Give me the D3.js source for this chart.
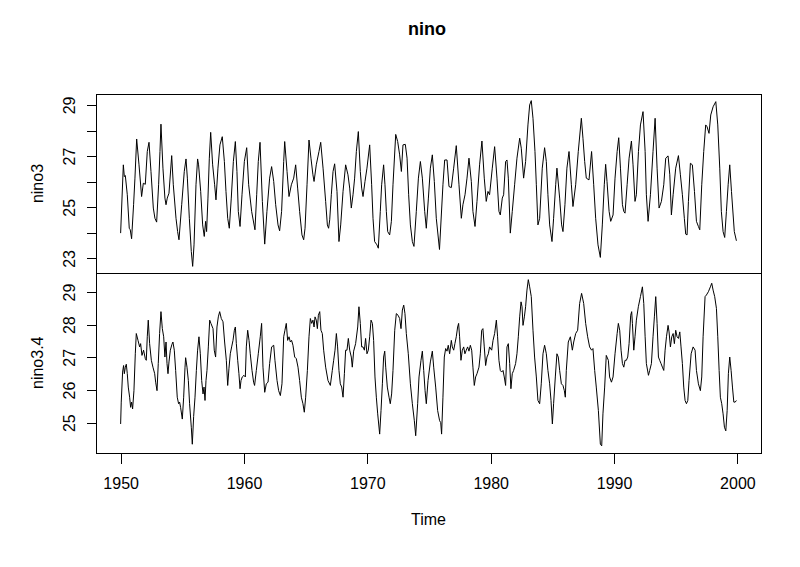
<!DOCTYPE html>
<html>
<head>
<meta charset="utf-8">
<script src="https://cdn.jsdelivr.net/npm/d3@7/dist/d3.min.js"></script>
<style>
  html, body { margin: 0; padding: 0; background: #fff; }
  svg { display: block; font-family: "Liberation Sans", Arial, sans-serif; }
</style>
</head>
<body>
<svg id="chart" width="800" height="567"></svg>
<script>
// ---- data ----
const chartTitle = "nino";
const xTitle = "Time";
const seriesNames = ["nino3", "nino3.4"];
const tsStart = 1950, tsEnd = 1999.917;
const xTicks = [1950, 1960, 1970, 1980, 1990, 2000];
const nino3Ticks = [23, 24, 25, 26, 27, 28, 29];
const nino3Labels = [23, 25, 27, 29];
const nino34Ticks = [25, 26, 27, 28, 29];

const nino3 = [
[1950.00,23.99],[1950.22,26.66],[1950.30,26.20],[1950.38,26.24],[1950.54,25.49],[1950.70,24.18],[1950.78,24.12],[1950.89,23.77],
[1951.05,25.10],[1951.16,26.14],[1951.30,27.67],[1951.49,26.66],[1951.70,25.42],[1951.84,25.94],[1952.00,25.90],[1952.16,27.18],
[1952.30,27.54],[1952.46,26.40],[1952.65,24.97],[1952.78,24.57],[1952.92,24.42],[1953.08,25.88],[1953.19,27.18],[1953.27,28.25],
[1953.43,26.53],[1953.59,25.36],[1953.68,25.10],[1953.78,25.36],[1953.92,25.55],[1954.14,27.02],[1954.27,25.88],[1954.49,24.57],
[1954.62,24.05],[1954.73,23.73],[1954.95,25.10],[1955.16,26.40],[1955.30,26.89],[1955.41,26.14],[1955.57,24.57],[1955.73,23.27],
[1955.84,22.69],[1955.95,23.53],[1956.11,25.88],[1956.24,26.89],[1956.32,26.66],[1956.49,25.62],[1956.65,24.31],[1956.78,23.86],
[1956.89,24.45],[1956.97,24.05],[1957.08,25.36],[1957.19,26.92],[1957.30,27.93],[1957.46,26.66],[1957.62,25.88],[1957.73,25.29],
[1957.89,26.53],[1958.05,27.44],[1958.24,27.76],[1958.41,26.79],[1958.54,25.62],[1958.68,24.57],[1958.81,24.18],[1958.97,25.36],
[1959.14,26.79],[1959.30,27.57],[1959.43,26.40],[1959.54,24.84],[1959.68,24.25],[1959.84,25.49],[1960.03,26.79],[1960.22,27.33],
[1960.38,25.88],[1960.62,24.84],[1960.89,24.12],[1961.03,25.49],[1961.16,26.79],[1961.30,27.54],[1961.49,25.23],[1961.68,23.56],
[1961.86,24.84],[1962.08,26.14],[1962.24,26.59],[1962.41,26.01],[1962.57,25.10],[1962.76,24.31],[1962.89,24.08],[1963.05,24.84],
[1963.22,26.79],[1963.30,27.57],[1963.49,26.40],[1963.65,25.42],[1963.84,25.88],[1964.03,26.14],[1964.19,26.66],[1964.35,25.75],
[1964.51,24.84],[1964.70,23.92],[1964.84,23.73],[1964.95,24.18],[1965.11,25.88],[1965.27,27.63],[1965.43,26.92],[1965.59,26.27],
[1965.68,26.01],[1965.86,26.66],[1966.08,27.18],[1966.22,27.54],[1966.41,26.53],[1966.62,25.23],[1966.76,24.31],[1966.86,24.18],
[1966.95,24.51],[1967.08,25.49],[1967.22,26.40],[1967.35,26.70],[1967.54,25.62],[1967.70,23.66],[1967.84,24.31],[1968.03,25.62],
[1968.24,26.66],[1968.43,26.27],[1968.57,25.75],[1968.70,24.97],[1968.84,25.49],[1968.97,26.14],[1969.11,27.18],[1969.27,27.96],
[1969.43,26.40],[1969.54,25.75],[1969.65,25.42],[1969.81,26.01],[1969.97,26.53],[1970.19,27.44],[1970.35,25.88],[1970.46,24.57],
[1970.59,23.66],[1970.78,23.53],[1970.89,23.40],[1971.05,24.84],[1971.16,25.88],[1971.32,26.66],[1971.43,25.88],[1971.54,24.84],
[1971.65,24.05],[1971.81,23.92],[1971.95,24.45],[1972.08,25.88],[1972.30,27.85],[1972.46,27.57],[1972.62,27.05],[1972.76,26.40],
[1972.89,27.44],[1973.08,27.46],[1973.22,26.92],[1973.35,25.49],[1973.49,24.31],[1973.65,23.66],[1973.78,23.47],[1973.97,24.84],
[1974.14,26.14],[1974.30,26.79],[1974.46,26.14],[1974.65,24.84],[1974.78,24.18],[1974.95,25.36],[1975.11,26.53],[1975.27,27.05],
[1975.43,26.01],[1975.59,24.57],[1975.85,23.35],[1976.13,25.88],[1976.27,26.85],[1976.46,26.85],[1976.62,25.81],[1976.81,25.77],
[1977.00,26.53],[1977.21,27.41],[1977.43,25.88],[1977.62,24.57],[1977.75,25.10],[1977.92,25.49],[1978.08,26.14],[1978.24,26.92],
[1978.43,26.01],[1978.56,24.84],[1978.73,24.25],[1978.89,25.23],[1979.10,26.66],[1979.29,27.59],[1979.48,26.14],[1979.64,25.23],
[1979.78,25.62],[1979.91,25.49],[1980.13,26.53],[1980.32,27.37],[1980.51,26.14],[1980.67,24.84],[1980.78,24.70],[1980.94,25.36],
[1981.05,25.49],[1981.21,26.79],[1981.32,26.85],[1981.43,26.14],[1981.59,23.99],[1981.75,24.84],[1981.94,25.88],[1982.13,26.92],
[1982.35,27.70],[1982.48,27.31],[1982.67,26.14],[1982.83,26.79],[1983.02,28.22],[1983.16,29.00],[1983.29,29.17],[1983.43,28.48],
[1983.59,27.18],[1983.70,25.88],[1983.83,24.31],[1983.97,24.57],[1984.18,26.53],[1984.37,27.33],[1984.51,26.79],[1984.64,25.49],
[1984.78,24.31],[1984.97,23.66],[1985.10,24.57],[1985.27,25.88],[1985.37,26.53],[1985.59,25.36],[1985.75,24.31],[1985.86,24.05],
[1986.02,25.10],[1986.18,26.53],[1986.35,27.18],[1986.54,25.88],[1986.67,25.03],[1986.89,25.88],[1987.10,27.18],[1987.35,28.48],
[1987.48,27.70],[1987.62,26.79],[1987.75,26.14],[1987.97,26.07],[1988.18,27.18],[1988.35,25.88],[1988.51,24.57],[1988.70,23.53],
[1988.89,23.04],[1989.05,24.31],[1989.21,25.88],[1989.32,26.68],[1989.43,26.01],[1989.60,24.84],[1989.73,24.45],[1989.92,24.70],
[1990.08,26.14],[1990.25,27.18],[1990.38,27.72],[1990.52,26.53],[1990.68,25.10],[1990.79,24.84],[1990.89,24.77],[1991.06,25.88],
[1991.22,26.92],[1991.41,27.59],[1991.54,26.66],[1991.70,25.23],[1991.81,25.49],[1991.98,27.18],[1992.14,28.22],[1992.35,28.74],
[1992.52,27.18],[1992.62,25.49],[1992.76,24.45],[1992.95,25.49],[1993.16,27.18],[1993.33,28.48],[1993.49,26.53],[1993.65,24.97],
[1993.84,25.23],[1994.03,25.88],[1994.19,26.92],[1994.38,27.01],[1994.52,26.27],[1994.65,24.70],[1994.79,25.49],[1995.00,26.53],
[1995.22,27.02],[1995.38,26.27],[1995.54,25.49],[1995.70,24.57],[1995.81,23.95],[1995.92,23.92],[1996.03,25.23],[1996.19,26.72],
[1996.35,26.66],[1996.52,25.62],[1996.68,24.45],[1996.84,24.25],[1996.95,24.12],[1997.11,25.88],[1997.27,27.18],[1997.43,28.22],
[1997.54,28.15],[1997.70,27.89],[1997.84,28.61],[1998.03,28.93],[1998.25,29.13],[1998.41,28.22],[1998.57,26.53],[1998.70,24.84],
[1998.84,24.05],[1998.97,23.82],[1999.11,24.84],[1999.25,25.88],[1999.38,26.66],[1999.52,25.62],[1999.75,24.05],[1999.92,23.69]
];

const nino34 = [
[1950.00,24.96],[1950.05,25.63],[1950.16,26.55],[1950.24,26.75],[1950.30,26.50],[1950.38,26.70],[1950.46,26.79],[1950.54,26.50],
[1950.62,26.09],[1950.73,25.78],[1950.81,25.47],[1950.89,25.63],[1950.97,25.42],[1951.08,25.98],[1951.19,27.11],[1951.27,27.73],
[1951.41,27.52],[1951.54,27.32],[1951.62,27.42],[1951.73,27.06],[1951.86,27.22],[1952.00,26.96],[1952.08,26.91],[1952.16,27.63],
[1952.24,28.14],[1952.35,27.42],[1952.49,26.91],[1952.62,26.70],[1952.76,26.50],[1952.84,26.24],[1952.95,25.98],[1953.05,26.81],
[1953.16,27.73],[1953.27,28.40],[1953.38,27.88],[1953.49,27.63],[1953.59,27.01],[1953.68,27.47],[1953.76,26.81],[1953.84,26.50],
[1953.92,26.86],[1954.03,27.22],[1954.16,27.40],[1954.24,27.47],[1954.35,27.22],[1954.46,26.60],[1954.59,25.78],[1954.70,25.58],
[1954.78,25.63],[1954.86,25.47],[1955.00,25.11],[1955.11,25.78],[1955.22,26.70],[1955.27,26.99],[1955.38,26.70],[1955.49,26.29],
[1955.59,25.58],[1955.73,24.86],[1955.81,24.34],[1955.92,25.19],[1956.03,25.78],[1956.14,26.60],[1956.24,27.22],[1956.35,27.63],
[1956.46,27.11],[1956.57,26.29],[1956.68,25.88],[1956.76,26.09],[1956.84,25.68],[1956.92,26.29],[1957.00,26.60],[1957.11,27.32],
[1957.22,28.14],[1957.32,28.04],[1957.49,27.88],[1957.59,27.22],[1957.70,27.01],[1957.81,27.93],[1957.92,28.24],[1958.03,28.40],
[1958.16,28.19],[1958.30,28.09],[1958.43,27.47],[1958.57,26.91],[1958.68,26.14],[1958.78,26.65],[1958.89,27.11],[1959.00,27.32],
[1959.11,27.52],[1959.22,27.83],[1959.30,27.93],[1959.38,27.42],[1959.49,26.91],[1959.59,26.50],[1959.68,26.04],[1959.76,26.29],
[1959.86,26.40],[1960.00,26.45],[1960.11,26.40],[1960.19,27.32],[1960.30,27.83],[1960.41,27.52],[1960.51,27.11],[1960.65,26.60],
[1960.78,26.24],[1960.86,26.14],[1961.00,26.60],[1961.16,27.11],[1961.32,27.63],[1961.43,28.04],[1961.54,26.70],[1961.68,25.93],
[1961.81,26.19],[1961.95,26.24],[1962.08,26.81],[1962.24,27.32],[1962.41,27.37],[1962.51,26.91],[1962.68,26.29],[1962.81,25.98],
[1962.95,25.83],[1963.08,26.19],[1963.22,27.63],[1963.32,27.83],[1963.43,28.04],[1963.54,27.52],[1963.65,27.63],[1963.76,27.47],
[1963.86,27.52],[1963.97,27.37],[1964.11,27.01],[1964.24,26.96],[1964.38,26.70],[1964.51,26.29],[1964.65,25.78],[1964.78,25.58],
[1964.89,25.32],[1965.00,25.78],[1965.14,26.60],[1965.27,27.63],[1965.38,28.19],[1965.49,28.04],[1965.59,28.14],[1965.68,27.93],
[1965.76,28.24],[1965.86,28.14],[1965.95,27.88],[1966.03,28.29],[1966.14,28.40],[1966.24,27.83],[1966.35,27.73],[1966.46,27.22],
[1966.62,26.70],[1966.81,26.29],[1967.00,26.14],[1967.16,26.60],[1967.27,26.91],[1967.38,27.22],[1967.49,27.73],[1967.59,27.32],
[1967.70,26.60],[1967.81,26.19],[1967.92,26.09],[1968.03,25.78],[1968.14,26.50],[1968.24,27.22],[1968.35,27.22],[1968.46,27.58],
[1968.57,27.22],[1968.70,27.01],[1968.78,26.70],[1968.89,27.19],[1969.05,27.42],[1969.22,27.93],[1969.32,28.55],[1969.43,28.04],
[1969.54,27.32],[1969.65,27.32],[1969.76,27.22],[1969.86,27.58],[1969.97,27.11],[1970.08,27.22],[1970.19,27.63],[1970.30,28.14],
[1970.41,28.04],[1970.51,27.52],[1970.62,26.40],[1970.73,25.78],[1970.84,25.27],[1971.00,24.65],[1971.11,25.37],[1971.22,26.19],
[1971.32,27.01],[1971.41,27.19],[1971.49,26.70],[1971.62,26.09],[1971.76,25.78],[1971.86,25.58],[1971.97,25.88],[1972.08,26.60],
[1972.22,27.83],[1972.35,28.34],[1972.49,28.29],[1972.62,28.19],[1972.73,27.88],[1972.84,28.45],[1972.95,28.60],[1973.05,28.34],
[1973.16,27.73],[1973.32,27.11],[1973.49,26.19],[1973.65,25.58],[1973.81,25.06],[1973.92,24.60],[1974.08,25.58],[1974.19,26.40],
[1974.35,26.91],[1974.46,27.19],[1974.57,26.60],[1974.68,25.98],[1974.78,25.58],[1974.92,26.29],[1975.11,26.86],[1975.27,27.19],
[1975.38,26.70],[1975.54,26.09],[1975.70,25.37],[1975.86,25.06],[1975.95,25.00],[1976.02,24.65],[1976.13,25.78],[1976.24,27.01],
[1976.35,27.27],[1976.46,27.19],[1976.56,27.37],[1976.67,27.11],[1976.81,27.52],[1976.89,27.32],[1977.00,27.22],[1977.10,27.42],
[1977.21,27.63],[1977.32,27.93],[1977.40,28.04],[1977.48,27.63],[1977.59,26.91],[1977.70,27.22],[1977.81,27.32],[1977.91,27.11],
[1978.02,27.22],[1978.13,27.32],[1978.24,27.19],[1978.35,27.37],[1978.46,27.22],[1978.56,26.70],[1978.67,26.14],[1978.78,26.40],
[1978.89,26.50],[1979.05,26.70],[1979.16,27.11],[1979.27,27.83],[1979.37,27.88],[1979.48,27.32],[1979.59,26.75],[1979.70,27.01],
[1979.81,27.11],[1979.91,27.32],[1980.08,27.22],[1980.19,27.52],[1980.32,27.73],[1980.46,28.14],[1980.56,27.63],[1980.67,26.91],
[1980.78,26.60],[1980.89,26.55],[1981.00,26.60],[1981.10,26.40],[1981.21,26.14],[1981.32,27.32],[1981.43,27.42],[1981.54,26.81],
[1981.64,26.04],[1981.75,26.50],[1981.86,26.60],[1982.02,26.81],[1982.13,27.11],[1982.24,27.63],[1982.35,28.24],[1982.46,28.70],
[1982.54,28.55],[1982.62,27.98],[1982.73,28.24],[1982.83,28.55],[1982.94,29.06],[1983.05,29.38],[1983.16,29.16],[1983.29,28.86],
[1983.43,27.83],[1983.56,27.01],[1983.70,26.40],[1983.83,25.68],[1983.97,25.58],[1984.10,26.19],[1984.24,27.11],[1984.37,27.37],
[1984.51,27.11],[1984.64,26.60],[1984.78,26.19],[1984.89,25.68],[1985.00,24.96],[1985.10,25.58],[1985.24,26.40],[1985.37,27.11],
[1985.48,27.01],[1985.59,26.60],[1985.73,26.19],[1985.86,26.14],[1985.97,25.98],[1986.05,25.78],[1986.13,26.60],[1986.29,27.47],
[1986.46,27.63],[1986.62,27.22],[1986.73,27.47],[1986.89,27.73],[1987.05,27.83],[1987.21,28.65],[1987.37,28.96],[1987.54,28.65],
[1987.70,28.04],[1987.86,27.63],[1988.02,27.32],[1988.18,27.22],[1988.29,27.27],[1988.43,26.60],[1988.56,26.09],[1988.73,25.37],
[1988.89,24.34],[1989.00,24.29],[1989.10,25.27],[1989.24,26.09],[1989.37,27.06],[1989.54,26.91],[1989.64,26.40],[1989.79,26.24],
[1989.92,26.40],[1990.08,27.11],[1990.25,27.73],[1990.35,28.04],[1990.46,27.83],[1990.57,27.22],[1990.68,26.81],[1990.79,26.70],
[1990.89,26.91],[1991.00,26.91],[1991.11,27.01],[1991.22,27.42],[1991.35,28.29],[1991.43,28.40],[1991.49,28.04],[1991.60,27.22],
[1991.70,27.63],[1991.81,28.14],[1991.97,28.55],[1992.14,28.86],[1992.30,29.16],[1992.41,28.65],[1992.52,27.63],[1992.62,26.81],
[1992.79,26.45],[1992.89,26.60],[1993.03,26.81],[1993.16,27.63],[1993.27,28.24],[1993.38,28.86],[1993.49,28.04],[1993.60,27.01],
[1993.70,26.91],[1993.81,26.81],[1993.92,26.70],[1994.03,26.60],[1994.14,27.22],[1994.25,27.63],[1994.38,27.98],[1994.46,27.78],
[1994.57,27.32],[1994.68,27.63],[1994.79,27.73],[1994.89,27.42],[1995.00,27.83],[1995.11,27.63],[1995.22,27.58],[1995.33,27.78],
[1995.43,27.32],[1995.54,26.81],[1995.65,26.09],[1995.76,25.68],[1995.87,25.58],[1995.98,25.68],[1996.08,26.29],[1996.25,27.11],
[1996.41,27.32],[1996.57,27.22],[1996.68,26.60],[1996.84,26.19],[1997.00,25.98],[1997.11,26.40],[1997.22,27.63],[1997.38,28.86],
[1997.49,28.91],[1997.65,29.01],[1997.81,29.16],[1997.92,29.27],[1998.03,29.06],[1998.16,28.86],[1998.30,28.50],[1998.41,27.63],
[1998.52,26.60],[1998.62,25.78],[1998.73,25.58],[1998.84,25.27],[1998.95,24.86],[1999.06,24.75],[1999.17,25.37],[1999.27,26.50],
[1999.38,27.01],[1999.49,26.60],[1999.60,26.09],[1999.71,25.63],[1999.82,25.63],[1999.92,25.68]
];

// ---- layout ----
const W = 800, H = 567;
const plotLeft = 96, plotRight = 761;
const panelTop = 94, panelMid = 273, panelBottom = 452.5;

const svg = d3.select("#chart");

// R-style 4% axis extension
function rRange(lo, hi) { const p = (hi - lo) * 0.04; return [lo - p, hi + p]; }

const x = d3.scaleLinear().domain(rRange(tsStart, tsEnd)).range([plotLeft, plotRight]);
const ext3 = d3.extent(nino3, d => d[1]);
const ext34 = d3.extent(nino34, d => d[1]);
const y3 = d3.scaleLinear().domain(rRange(ext3[0], ext3[1])).range([panelMid, panelTop]);
const y34 = d3.scaleLinear().domain(rRange(ext34[0], ext34[1])).range([panelBottom, panelMid]);

const font = '"Liberation Sans", Arial, sans-serif';

// title
svg.append("text").attr("x", 427).attr("y", 35)
  .attr("text-anchor", "middle").attr("font-size", 18).attr("font-weight", "bold")
  .attr("font-family", font).attr("fill", "#000").text(chartTitle);

// series lines
function drawSeries(data, yScale) {
  const line = d3.line().x(d => x(d[0])).y(d => yScale(d[1]));
  svg.append("path").datum(data).attr("d", line)
    .attr("fill", "none").attr("stroke", "#000").attr("stroke-width", 1)
    .attr("stroke-linejoin", "round");
}
drawSeries(nino3, y3);
drawSeries(nino34, y34);

// panel boxes
function box(y0, y1) {
  svg.append("rect").attr("x", plotLeft + 0.5).attr("y", Math.round(y0) + 0.5)
    .attr("width", plotRight - plotLeft).attr("height", Math.round(y1) - Math.round(y0))
    .attr("fill", "none").attr("stroke", "#000").attr("stroke-width", 1)
    .attr("shape-rendering", "crispEdges");
}
box(panelTop, panelMid);
box(panelMid, panelBottom);

// y axes
function yAxis(scale, ticks, labelSet) {
  const g = svg.append("g").attr("transform", `translate(${plotLeft + 0.5},0)`)
    .call(d3.axisLeft(scale).tickValues(ticks).tickSize(10).tickPadding(0)
      .tickFormat(d => labelSet.includes(d) ? d : ""));
  g.select(".domain").remove();
  g.selectAll(".tick line").attr("stroke", "#000").attr("shape-rendering", "crispEdges");
  g.selectAll(".tick text")
    .attr("x", null).attr("dy", null).attr("text-anchor", "middle")
    .attr("transform", "translate(-22,0) rotate(-90)")
    .attr("font-size", 16).attr("font-family", font).attr("fill", "#000");
}
yAxis(y3, nino3Ticks, nino3Labels);
yAxis(y34, nino34Ticks, nino34Ticks);

// x axis
const gx = svg.append("g").attr("transform", `translate(0,${Math.round(panelBottom) + 0.5})`)
  .call(d3.axisBottom(x).tickValues(xTicks).tickSize(10).tickFormat(d3.format("d")));
gx.select(".domain").remove();
gx.selectAll(".tick line").attr("stroke", "#000").attr("shape-rendering", "crispEdges");
gx.selectAll(".tick text").attr("y", 35).attr("dy", null)
  .attr("font-size", 16).attr("font-family", font).attr("fill", "#000");

// axis titles
svg.append("text").attr("x", (plotLeft + plotRight) / 2).attr("y", 525)
  .attr("text-anchor", "middle").attr("font-size", 16).attr("font-family", font)
  .attr("fill", "#000").text(xTitle);
svg.append("text").attr("transform", `translate(43,${(panelTop + panelMid) / 2}) rotate(-90)`)
  .attr("text-anchor", "middle").attr("font-size", 16).attr("font-family", font)
  .attr("fill", "#000").text(seriesNames[0]);
svg.append("text").attr("transform", `translate(43,${(panelMid + panelBottom) / 2}) rotate(-90)`)
  .attr("text-anchor", "middle").attr("font-size", 16).attr("font-family", font)
  .attr("fill", "#000").text(seriesNames[1]);
</script>
</body>
</html>
